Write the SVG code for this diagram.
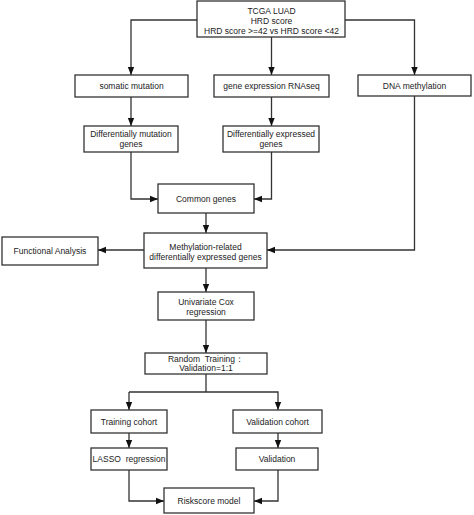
<svg xmlns="http://www.w3.org/2000/svg" width="474" height="515" viewBox="0 0 474 515">
<defs>
<marker id="ah" markerUnits="userSpaceOnUse" markerWidth="8" markerHeight="8" viewBox="0 0 8 8" refX="8" refY="4" orient="auto">
<path d="M0,0.8 L8,4 L0,7.2 Z" fill="#111"/>
</marker>
<style>
.b{fill:#fff;stroke:#333;stroke-width:1.3}
.t{font-family:"Liberation Sans",Arial,sans-serif;font-size:8.5px;fill:#222;text-anchor:middle;white-space:pre}
.c{fill:none;stroke:#333;stroke-width:1.3;marker-end:url(#ah)}
.l{fill:none;stroke:#333;stroke-width:1.3}
</style>
</defs>
<rect width="474" height="515" fill="#fff"/>
<g id="connectors">
<path class="c" d="M197,20 H131 V75"/>
<path class="c" d="M271.5,37 V75"/>
<path class="c" d="M345,20 H414.5 V75"/>
<path class="c" d="M131,97 V126"/>
<path class="c" d="M271.5,97 V126"/>
<path class="c" d="M131,152 V199 H158"/>
<path class="c" d="M271.5,152 V199 H254"/>
<path class="c" d="M206,213 V233"/>
<path class="c" d="M414.5,96 V250 H267"/>
<path class="c" d="M144,250 H98"/>
<path class="c" d="M206,268 V292"/>
<path class="c" d="M206,320 V353"/>
<path class="l" d="M206,374 V392"/>
<path class="c" d="M129,392 H278 V410"/>
<path class="c" d="M129,392 V410"/>
<path class="c" d="M129,433 V448"/>
<path class="c" d="M278,433 V448"/>
<path class="c" d="M129,470 V501 H164"/>
<path class="c" d="M278,470 V501 H254"/>
</g>
<g id="tcga"><rect class="b" x="197" y="1" width="148" height="36"/>
<text class="t" x="271.5" y="14">TCGA LUAD</text><text class="t" x="271.5" y="24">HRD score</text><text class="t" x="271.5" y="34">HRD score &gt;=42 vs HRD score &lt;42</text></g>
<g id="somatic"><rect class="b" x="75" y="75" width="113" height="22"/><text class="t" x="131.5" y="89">somatic mutation</text></g>
<g id="rnaseq"><rect class="b" x="214" y="75" width="115" height="22"/><text class="t" x="271.5" y="89">gene expression RNAseq</text></g>
<g id="dnameth"><rect class="b" x="358" y="75" width="113" height="21"/><text class="t" x="414.5" y="89">DNA methylation</text></g>
<g id="dmg"><rect class="b" x="84" y="126" width="94" height="26"/><text class="t" x="131" y="137">Differentially mutation</text><text class="t" x="131" y="147">genes</text></g>
<g id="deg"><rect class="b" x="223" y="126" width="96" height="26"/><text class="t" x="271" y="137">Differentially expressed</text><text class="t" x="271" y="147">genes</text></g>
<g id="common"><rect class="b" x="158" y="184" width="96" height="29"/><text class="t" x="206" y="202">Common genes</text></g>
<g id="methdeg"><rect class="b" x="144" y="233" width="123" height="35"/><text class="t" x="205.5" y="250">Methylation-related</text><text class="t" x="205.5" y="260">differentially expressed genes</text></g>
<g id="functional"><rect class="b" x="2" y="237" width="96" height="28"/><text class="t" x="50" y="254">Functional Analysis</text></g>
<g id="cox"><rect class="b" x="158" y="292" width="96" height="28"/><text class="t" x="206" y="305">Univariate Cox</text><text class="t" x="206" y="315">regression</text></g>
<g id="random"><rect class="b" x="145" y="353" width="122" height="21"/><text class="t" x="206" y="362">Random  Training：</text><text class="t" x="206" y="371">Validation=1:1</text></g>
<g id="training"><rect class="b" x="91" y="410" width="76" height="23"/><text class="t" x="129" y="425">Training cohort</text></g>
<g id="valcohort"><rect class="b" x="233" y="410" width="89" height="23"/><text class="t" x="277.5" y="425">Validation cohort</text></g>
<g id="lasso"><rect class="b" x="91" y="448" width="76" height="22"/><text class="t" x="129" y="462">LASSO  regression</text></g>
<g id="validation"><rect class="b" x="236" y="448" width="82" height="22"/><text class="t" x="277" y="462">Validation</text></g>
<g id="riskscore"><rect class="b" x="164" y="488" width="90" height="25"/><text class="t" x="209" y="504">Riskscore model</text></g>
</svg>
